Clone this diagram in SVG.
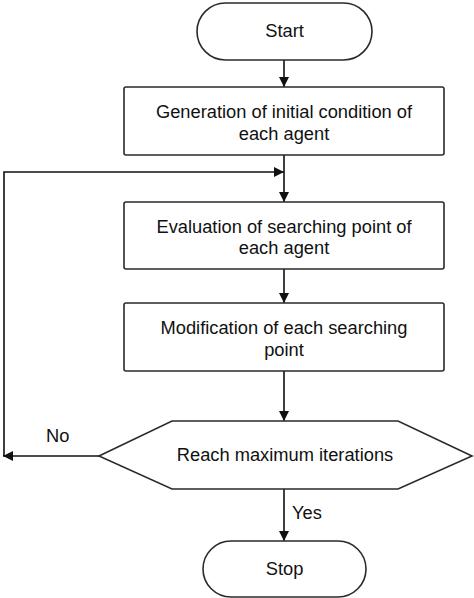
<svg xmlns="http://www.w3.org/2000/svg" width="474" height="598" viewBox="0 0 474 598">
<defs>
<style>
.shape{fill:#fff;stroke:#2a2a2a;stroke-width:1.6}
.t{font-family:"Liberation Sans",Arial,sans-serif;font-size:18.3px;fill:#111;text-anchor:middle}
.l{font-family:"Liberation Sans",Arial,sans-serif;font-size:18.3px;fill:#111}
.c{fill:none;stroke:#111;stroke-width:1.6}
</style>
<marker id="ah" markerWidth="10" markerHeight="10" refX="10" refY="5" orient="auto" markerUnits="userSpaceOnUse">
<path d="M0,0 L10,5 L0,10 Z" fill="#111"/>
</marker>
</defs>
<rect width="474" height="598" fill="#fff"/>
<g id="connectors">
<line class="c" x1="284" y1="60" x2="284" y2="87" marker-end="url(#ah)"/>
<line class="c" x1="284" y1="155" x2="284" y2="202" marker-end="url(#ah)"/>
<line class="c" x1="284" y1="269" x2="284" y2="303" marker-end="url(#ah)"/>
<line class="c" x1="284" y1="371" x2="284" y2="421" marker-end="url(#ah)"/>
<line class="c" x1="284" y1="489" x2="284" y2="541" marker-end="url(#ah)"/>
<line class="c" x1="99" y1="456" x2="3" y2="456" marker-end="url(#ah)"/>
<polyline class="c" points="4,456 4,172 284,172" marker-end="url(#ah)"/>
<text class="l" x="46" y="442">No</text>
<text class="l" x="292" y="519">Yes</text>
</g>
<g id="start">
<rect class="shape" x="197" y="3" width="175" height="57" rx="28.5"/>
<text class="t" x="284.5" y="37">Start</text>
</g>
<g id="gen">
<rect class="shape" x="124" y="87" width="320" height="68" rx="2"/>
<text class="t" x="284" y="118">Generation of initial condition of</text>
<text class="t" x="284" y="140">each agent</text>
</g>
<g id="eval">
<rect class="shape" x="124" y="202" width="320" height="67" rx="2"/>
<text class="t" x="284" y="233">Evaluation of searching point of</text>
<text class="t" x="284" y="254">each agent</text>
</g>
<g id="mod">
<rect class="shape" x="124" y="303" width="320" height="68" rx="2"/>
<text class="t" x="284" y="334">Modification of each searching</text>
<text class="t" x="284" y="356">point</text>
</g>
<g id="decision">
<polygon class="shape" points="99,456 172,421 398,421 472,456 398,489 172,489"/>
<text class="t" x="285" y="461">Reach maximum iterations</text>
</g>
<g id="stop">
<rect class="shape" x="203" y="541" width="163" height="56" rx="28"/>
<text class="t" x="284.5" y="575">Stop</text>
</g>
</svg>
